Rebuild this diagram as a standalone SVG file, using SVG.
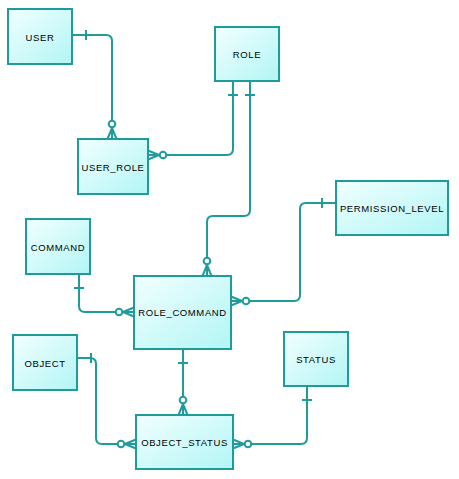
<svg xmlns="http://www.w3.org/2000/svg" width="459" height="479" viewBox="0 0 459 479">
<defs>
<linearGradient id="fill" x1="0" y1="0" x2="1" y2="1">
<stop offset="0" stop-color="#f2ffff"/>
<stop offset="1" stop-color="#b2f5f5"/>
</linearGradient>
<marker id="one" markerUnits="userSpaceOnUse" orient="auto" markerWidth="30" markerHeight="30" refX="0" refY="0" viewBox="-15 -15 30 30" overflow="visible">
<path d="M14,-5 V5" stroke="#1e9b9b" stroke-width="2" fill="none"/>
</marker>
<marker id="many" markerUnits="userSpaceOnUse" orient="auto" markerWidth="40" markerHeight="40" refX="0" refY="0" viewBox="-20 -20 40 40" overflow="visible">
<path d="M-11,0 L0,-4.5 M-11,0 L0,0 M-11,0 L0,4.5" stroke="#1e9b9b" stroke-width="2" fill="none"/>
<circle cx="-15" cy="0" r="3.3" fill="#ffffff" stroke="#1e9b9b" stroke-width="2"/>
</marker>
</defs>
<style>
.box{fill:url(#fill);stroke:#1e9b9b;stroke-width:2}
.lbl{font-family:"Liberation Sans",Arial,sans-serif;font-size:9.5px;letter-spacing:0.6px;fill:#000;text-anchor:middle;dominant-baseline:central}
.conn{fill:none;stroke:#1e9b9b;stroke-width:2;marker-start:url(#one);marker-end:url(#many)}
</style>
<rect width="459" height="479" fill="#ffffff"/>
<g id="connectors">
<path class="conn" d="M72,35 H106 Q112,35 112,41 V139"/>
<path class="conn" d="M233,81 V149 Q233,155 227,155 H148"/>
<path class="conn" d="M250,81 V210 Q250,216 244,216 H213 Q207,216 207,222 V276"/>
<path class="conn" d="M79,274 V306 Q79,312 85,312 H134"/>
<path class="conn" d="M336,203 H306 Q300,203 300,209 V295 Q300,301 294,301 H231"/>
<path class="conn" d="M77,358 H90 Q96,358 96,364 V438 Q96,444 102,444 H136"/>
<path class="conn" d="M183,349 V415"/>
<path class="conn" d="M307,386 V438 Q307,444 301,444 H233"/>
</g>
<g id="USER"><rect class="box" x="8" y="9" width="64" height="55"/><text class="lbl" x="40" y="37">USER</text></g>
<g id="ROLE"><rect class="box" x="215" y="27" width="64" height="54"/><text class="lbl" x="247" y="54">ROLE</text></g>
<g id="USER_ROLE"><rect class="box" x="78" y="139" width="70" height="55"/><text class="lbl" x="113" y="167">USER_ROLE</text></g>
<g id="COMMAND"><rect class="box" x="26" y="219" width="64" height="55"/><text class="lbl" x="58" y="247">COMMAND</text></g>
<g id="PERMISSION_LEVEL"><rect class="box" x="336" y="181" width="112" height="54"/><text class="lbl" x="392" y="208">PERMISSION_LEVEL</text></g>
<g id="ROLE_COMMAND"><rect class="box" x="134" y="276" width="97" height="73"/><text class="lbl" x="182.5" y="312">ROLE_COMMAND</text></g>
<g id="OBJECT"><rect class="box" x="13" y="335" width="64" height="55"/><text class="lbl" x="45" y="363">OBJECT</text></g>
<g id="STATUS"><rect class="box" x="284" y="332" width="64" height="54"/><text class="lbl" x="316" y="359">STATUS</text></g>
<g id="OBJECT_STATUS"><rect class="box" x="136" y="415" width="97" height="54"/><text class="lbl" x="184.5" y="442">OBJECT_STATUS</text></g>
</svg>
